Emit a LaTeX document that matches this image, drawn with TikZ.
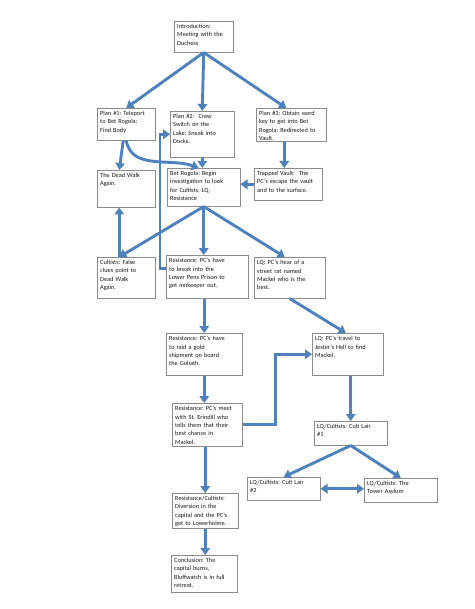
\documentclass[tikz,border=0pt]{standalone}
\usepackage{fontspec}
\setmainfont{Carlito}
\usetikzlibrary{arrows.meta}
\definecolor{arrblue}{HTML}{4F81BD}
\frenchspacing
\tikzset{
 boxst/.style={draw=black!45, line width=0.5pt, fill=white, inner sep=0pt},
 txtst/.style={inner sep=0pt, align=left, font=\fontsize{6.3}{8.4}\selectfont, text=black!90},
 conn/.style={draw=arrblue, line width=2.9pt, -{Triangle[length=7pt,width=9.5pt]}},
 conntwo/.style={draw=arrblue, line width=2.9pt, {Triangle[length=7pt,width=9.5pt]}-{Triangle[length=7pt,width=9.5pt]}}
}
\newcommand\mkbox[7]{%
 \node[boxst, minimum width=#4pt, minimum height=#5pt, anchor=north west] (#1) at (#2,#3) {};
 \node[txtst, text width=#6pt, anchor=north west] (#1t) at ([shift={(3pt,-3pt)}]#1.north west) {#7};}
\begin{document}
\begin{tikzpicture}[x=1pt,y=-1pt]
\useasboundingbox[fill=white] (0,0) rectangle (474,609);
\mkbox{intro}{174}{21}{59}{31}{55}{Introduction:\\Meeting with the\\Duchess}
\mkbox{plana}{97}{108}{58}{32}{55}{Plan \#1: Teleport\\to Bet Rogola:\\Find Body}
\mkbox{planb}{170}{111}{64}{46}{61}{Plan \#2:~ Crew\\Switch on the\\Lake: Sneak into\\Docks.}
\mkbox{planc}{256}{108}{70}{33}{67}{Plan \#3: Obtain ward\\key to get into Bet\\Rogola: Redirected to\\Vault.}
\mkbox{dead}{97}{170}{58}{37}{55}{The Dead Walk\\Again.}
\mkbox{bet}{167}{168}{73}{38}{70}{Bet Rogola: Begin\\investigation to look\\for Cultists, LQ,\\Resistance}
\mkbox{vault}{254}{168}{68}{32}{65}{Trapped Vault:~ The\\PC's escape the vault\\and to the surface.}
\mkbox{cult}{97}{257}{58}{41}{55}{Cultists: False\\clues point to\\Dead Walk\\Again.}
\mkbox{prison}{166}{255}{82}{43}{79}{Resistance: PC's have\\to break into the\\Lower Pens Prison to\\get innkeeper out.}
\mkbox{rat}{254}{257}{71}{41}{68}{LQ: PC's hear of a\\street rat named\\Mackel who is the\\best.}
\mkbox{gold}{166}{333}{76}{42}{73}{Resistance: PC's have\\to raid a gold\\shipment on board\\the Goliath.}
\mkbox{erin}{172}{403}{70}{43}{67}{Resistance: PC's meet\\with St. Erindill who\\tells them that their\\best chance in\\Mackel.}
\mkbox{travel}{312}{333}{71}{42}{68}{LQ: PC's travel to\\Jester's Hell to find\\Mackel.}
\mkbox{lairone}{314}{421}{73}{24}{70}{LQ/Cultists: Cult Lair\\\#1}
\mkbox{lairtwo}{247}{477}{73}{23}{70}{LQ/Cultists: Cult Lair\\\#2}
\mkbox{tower}{364}{478}{73}{24}{70}{LQ/Cultists: The\\Tower Asylum}
\mkbox{divers}{172}{493}{66}{35}{63}{Resistance/Cultists:\\Diversion in the\\capital and the PC's\\get to Lowerholme.}
\mkbox{concl}{171}{555}{66}{37}{63}{Conclusion: The\\capital burns,\\Bluffwatch is in full\\retreat.}
% connectors
\draw[conn] (intro.south) -- (plana.north);
\draw[conn] (intro.south) -- (planb.north);
\draw[conn] (intro.south) -- ([xshift=-5pt]planc.north);
\draw[conn] (plana.south) to[out=-80,in=160] ([xshift=-5pt]bet.north);
\draw[conn] ([xshift=-3pt]plana.south) -- ([xshift=-7pt]dead.north);
\draw[conn] (planb.south) -- (planb.south |- bet.north);
\draw[conn] ([xshift=-7pt]planc.south) -- ([xshift=-7pt]planc.south |- vault.north);
\draw[conn] (vault.west) -- (vault.west -| bet.east);
\draw[conn] (bet.south) -- ([xshift=-7pt]cult.north);
\draw[conn] (bet.south) -- (bet.south |- prison.north);
\draw[conn] (bet.south) -- ([xshift=-5pt]rat.north);
\draw[conn] ([xshift=-7pt]cult.north) -- ([xshift=-7pt]dead.south);
\draw[conn] ([yshift=8pt]prison.west) -- ++(-6,0) |- (planb.west);
\draw[conn] (gold.north |- prison.south) -- (gold.north);
\draw[conn] (rat.south) -- ([xshift=-2pt]travel.north);
\draw[conn] (gold.south) -- (gold.south |- erin.north);
\draw[conn] (erin.east) -- ++(33,0) |- (travel.west);
\draw[conn] (lairone.north |- travel.south) -- (lairone.north);
\draw[conn] (lairone.south) -- (lairtwo.north);
\draw[conn] (lairone.south) -- (tower.north);
\draw[conntwo] (lairtwo.east) -- (lairtwo.east -| tower.west);
\draw[conn] ([xshift=-2pt]erin.south) -- ([xshift=-2pt]erin.south |- divers.north);
\draw[conn] (divers.south) -- (divers.south |- concl.north);
\end{tikzpicture}
\end{document}
